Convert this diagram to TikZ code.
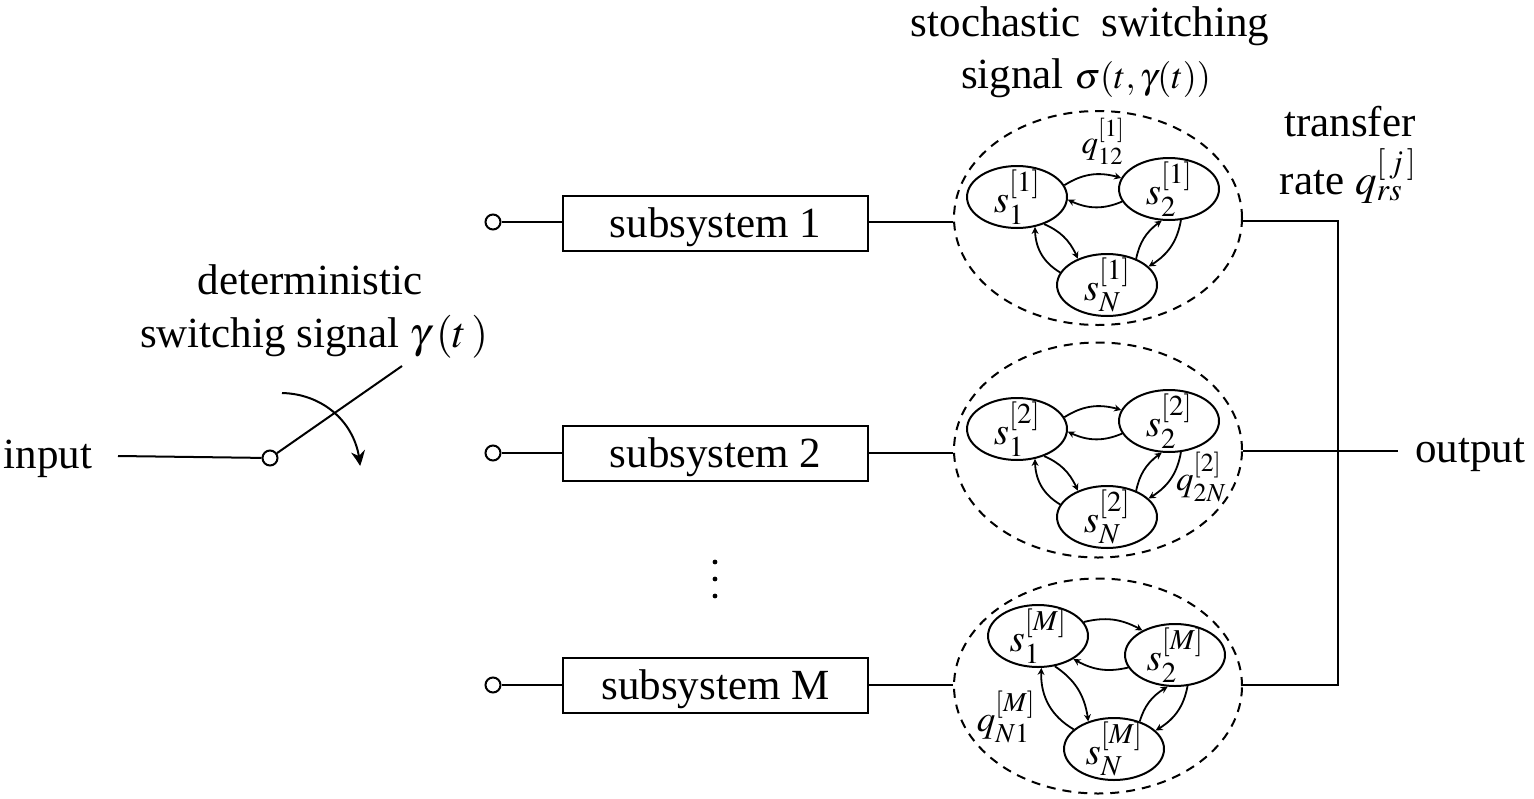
\documentclass[tikz,border=0pt]{standalone}
\usepackage{mathptmx}
\usepackage{fontspec}
\setmainfont{Liberation Serif}
\usetikzlibrary{shapes.geometric,arrows.meta,bending}
\tikzset{
 lbl/.style={inner sep=0pt,font=\fontsize{43}{46}\selectfont},
 slbl/.style={label={center:\fontsize{39}{42}\selectfont $#1$}},
 wire/.style={line width=2pt},
 sysbox/.style={draw,line width=2pt,minimum width=305pt,minimum height=55pt,inner sep=0pt,text depth=1pt,font=\fontsize{43}{46}\selectfont},
 term/.style={draw,circle,line width=2pt,minimum size=15pt,inner sep=0pt,fill=white},
 cloud/.style={draw,ellipse,line width=2pt,dash pattern=on 9pt off 7pt,minimum width=288pt,inner sep=0pt},
 state/.style={draw,ellipse,line width=2pt,minimum width=100pt,minimum height=62pt,inner sep=0pt},
 flow/.style={line width=1.8pt,-{Stealth[length=7pt,width=7pt]}},
}
\newcommand{\transitions}[3]{%
 \draw[flow] (#1.14) to[bend left=25] (#2.167);
 \draw[flow] (#2.195) to[bend left=25] (#1.-3);
 \draw[flow] (#1.-45) to[bend left=22] (#3.138);
 \draw[flow] (#3.165) to[bend left=30] (#1.-59);
 \draw[flow] (#3.42) to[bend left=22] (#2.-103);
 \draw[flow] (#2.-69) to[bend left=25] (#3.24);
}
\begin{document}
\begin{tikzpicture}[x=1pt,y=-1pt]
\useasboundingbox (0,0) rectangle (1534,798);
% text
\node[lbl] (t1) at (1090,26) {stochastic\ \ switching};
\node[lbl] (t2) at (1086,78) {signal {\fontsize{36}{40}\selectfont$\sigma(t,\gamma(t))$}};
\node[lbl] (t3) at (1350,122) {transfer};
\node[lbl] (t4) at (1348,176) {rate $q_{rs}^{[\,j\,]}$};
\node[lbl] (t5) at (310,280) {deterministic};
\node[lbl] (t6) at (314,337) {switchig signal $\gamma\,(t\,)$};
\node[lbl] (in) at (48,459) {input};
\node[lbl] (out) at (1470,455) {output};
% subsystems
\node[sysbox] (b1) at (715.5,223.5) {subsystem 1};
\node[sysbox] (b2) at (715.5,453) {subsystem 2};
\node[sysbox] (b3) at (715.5,685.5) {subsystem M};
\node[term] (c1) at (493,222) {};
\node[term] (c2) at (493,453) {};
\node[term] (c3) at (493,685) {};
\draw[wire] (c1) -- (c1 -| b1.west);
\draw[wire] (c2) -- (c2 -| b2.west);
\draw[wire] (c3) -- (c3 -| b3.west);
% dashed groups
\node[cloud,minimum height=214pt] (g1) at (1098,218) {};
\node[cloud,minimum height=215pt] (g2) at (1098,450) {};
\node[cloud,minimum height=215pt] (g3) at (1098,686) {};
\draw[wire] (c1 -| b1.east) -- (c1 -| g1.west);
\draw[wire] (c2 -| b2.east) -- (c2 -| g2.west);
\draw[wire] (c3 -| b3.east) -- (c3 -| g3.west);
% states
\node[state,slbl={s_1^{[1]}}] (a1) at (1017,197) {};
\node[state,slbl={s_2^{[1]}}] (a2) at (1169,189) {};
\node[state,slbl={s_N^{[1]}}] (a3) at (1107,285) {};
\transitions{a1}{a2}{a3}
\node[state,slbl={s_1^{[2]}}] (d1) at (1017,429) {};
\node[state,slbl={s_2^{[2]}}] (d2) at (1169,421) {};
\node[state,slbl={s_N^{[2]}}] (d3) at (1107,517) {};
\transitions{d1}{d2}{d3}
\node[state,slbl={s_1^{[M]}}] (e1) at (1038,636) {};
\node[state,slbl={s_2^{[M]}}] (e2) at (1175,655) {};
\node[state,slbl={s_N^{[M]}}] (e3) at (1114,749) {};
\draw[flow] (e1.17) to[bend left=22] (e2.143);
\draw[flow] (e2.195) to[bend left=22] (e1.-33);
\draw[flow] (e1.-61) to[bend left=25] (e3.133);
\draw[flow] (e3.154) to[bend left=32] (e1.-84);
\draw[flow] (e3.47) to[bend left=22] (e2.-103);
\draw[flow] (e2.-68) to[bend left=25] (e3.24);
% rate labels
\node[inner sep=0pt,font=\fontsize{33}{36}\selectfont] (q1) at (1103,141) {$q_{12}^{[1]}$};
\node[inner sep=0pt,font=\fontsize{35}{38}\selectfont] (q2) at (1201,477) {$q_{2N}^{[2]}$};
\node[inner sep=0pt,font=\fontsize{37}{40}\selectfont] (q3) at (1006,717) {$q_{N1}^{[M]}$};
% output bus
\coordinate (j1) at (1338,221);
\coordinate (j3) at (1338,685);
\draw[wire] (j1 -| g1.east) -- (j1) -- (j3) -- (j3 -| g3.east);
\coordinate (oe) at (1398,451);
\draw[wire] (oe -| g2.east) -- (oe);
% switch
\node[term] (sw) at (270,458) {};
\coordinate (is) at (118,456);
\coordinate (se) at (402,366);
\draw[wire] (is) -- (sw);
\draw[wire] (sw) -- (se);
\coordinate (as) at (282,393);
\coordinate (ae) at (360,466);
\draw[wire,-{Stealth[length=15pt,width=14pt,bend]}] (as) .. controls (325,394) and (358,425) .. (ae);
% dots
\fill (715,562) circle (2.4pt) (715,579) circle (2.4pt) (715,596) circle (2.4pt);
\end{tikzpicture}
\end{document}
